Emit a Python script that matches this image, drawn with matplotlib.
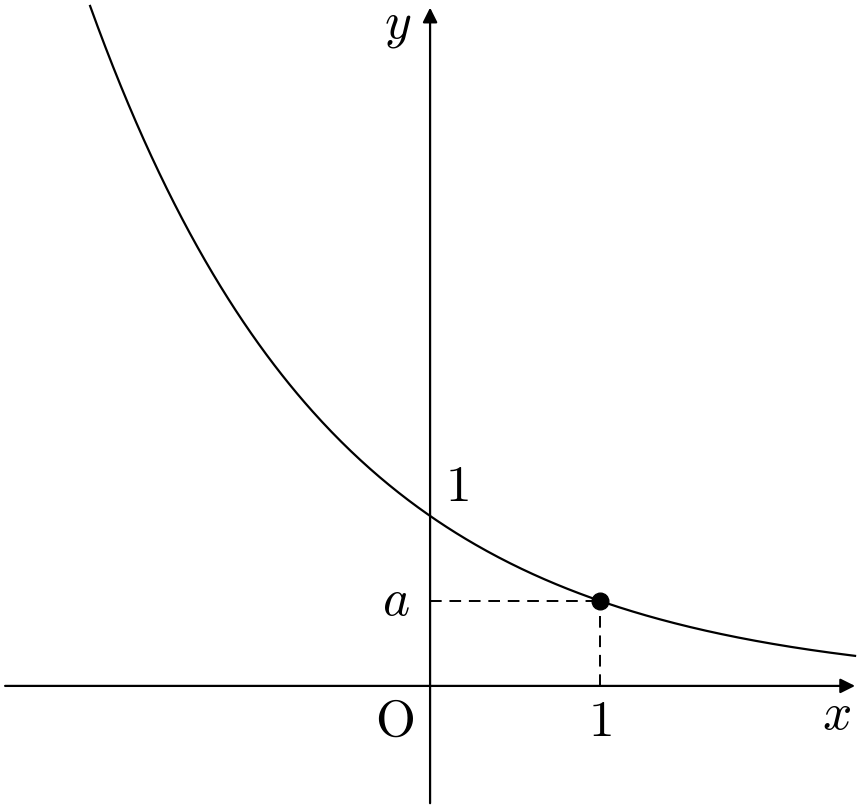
import numpy as np
import matplotlib.pyplot as plt

plt.rcParams['mathtext.fontset'] = 'cm'

base = 0.5
x_start, x_end = -2.0, 2.5
point_x = 1.0

fig = plt.figure(figsize=(8.61, 8.10), dpi=100)
ax = fig.add_axes([0, 0, 1, 1])
ax.set_xlim(-2.53, 2.535)
ax.set_ylim(-0.73, 4.035)
ax.axis('off')

# axes with arrows
ax.annotate('', xy=(2.5, 0), xytext=(-2.5, 0),
            arrowprops=dict(arrowstyle='-|>', color='black', lw=1.6,
                            mutation_scale=22, shrinkA=0, shrinkB=0))
ax.annotate('', xy=(0, 3.99), xytext=(0, -0.69),
            arrowprops=dict(arrowstyle='-|>', color='black', lw=1.6,
                            mutation_scale=22, shrinkA=0, shrinkB=0))

xs = np.linspace(x_start, x_end, 400)
ax.plot(xs, base ** xs, color='black', lw=1.6)

py = base ** point_x
ax.plot([0, point_x], [py, py], 'k--', lw=1.4, dashes=(6, 4))
ax.plot([point_x, point_x], [0, py], 'k--', lw=1.4, dashes=(6, 4))
ax.plot(point_x, py, 'ko', ms=12)

fs = 37
ax.text(-0.19, 3.89, '$y$', fontsize=fs, ha='center', va='center')
ax.text(2.39, -0.17, '$x$', fontsize=fs, ha='center', va='center')
ax.text(-0.21, -0.21, r'$\mathrm{O}$', fontsize=fs, ha='center', va='center')
ax.text(0.16, 1.17, r'$1$', fontsize=fs, ha='center', va='center')
ax.text(1.0, -0.21, r'$1$', fontsize=fs, ha='center', va='center')
ax.text(-0.2, 0.5, '$a$', fontsize=fs, ha='center', va='center')

fig.savefig('out.png', dpi=100)
